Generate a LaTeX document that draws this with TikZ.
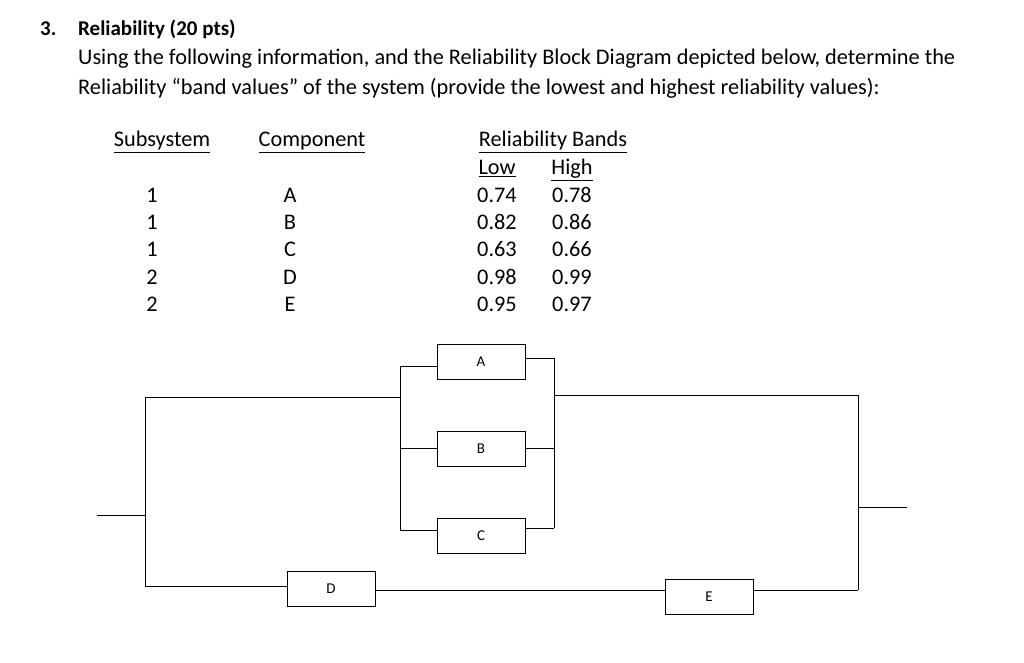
\documentclass[tikz,border=0pt]{standalone}
\usepackage{fontspec}
\setmainfont{Carlito}
\begin{document}
\begin{tikzpicture}[x=1pt,y=-1pt,
  txt/.style={anchor=base west,inner sep=0pt,font=\fontsize{22.3}{26}\selectfont},
  cell/.style={anchor=base,inner sep=0pt,font=\fontsize{22.3}{26}\selectfont},
  blk/.style={draw,line width=1pt,minimum width=88pt,minimum height=35pt,inner sep=0pt,font=\fontsize{15}{17}\selectfont},
  wire/.style={line width=1pt}]
\useasboundingbox (0,0) rectangle (1024,663);
\node[txt,font=\bfseries\fontsize{21}{24}\selectfont] (num) at (40,36) {3.};
\node[txt,font=\bfseries\fontsize{21}{24}\selectfont] (title) at (78,36) {Reliability (20 pts)};
\node[txt] (l1) at (78,65) {Using the following information, and the Reliability Block Diagram depicted below, determine the};
\node[txt] (l2) at (78,95) {Reliability “band values” of the system (provide the lowest and highest reliability values):};
\node[cell] (h1) at (162,147) {\underline{Subsystem}};
\node[cell] (h2) at (312,147) {\underline{Component}};
\node[cell] (h3) at (553,147) {\underline{Reliability Bands}};
\node[cell] (h4) at (497,175) {\underline{Low}};
\node[cell] (h5) at (572,175) {\underline{High}};
\foreach \s/\c/\lo/\hi [count=\i] in {1/A/0.74/0.78,1/B/0.82/0.86,1/C/0.63/0.66,2/D/0.98/0.99,2/E/0.95/0.97}{
  \pgfmathsetmacro\yy{175+27.3*\i}
  \node[cell] (s\i) at (152,\yy) {\s};
  \node[cell] (c\i) at (290,\yy) {\c};
  \node[cell] (lo\i) at (497,\yy) {\lo};
  \node[cell] (hi\i) at (572,\yy) {\hi};
}
\node[blk] (A) at (481,361.5) {A};
\node[blk] (B) at (481,449) {B};
\node[blk] (C) at (481,536) {C};
\node[blk] (D) at (331,588.5) {D};
\node[blk] (E) at (709,597) {E};
\coordinate (in) at (97,515);
\coordinate (out) at (907,507);
\coordinate (lt) at (145,397);
\coordinate (lb) at (145,586);
\coordinate (rt) at (858,395);
\coordinate (rb) at (858,590);
\coordinate (pl) at (400,397);
\coordinate (pr) at (554,395);
\draw[wire] (in) -- (145,515);
\draw[wire] (lt) -- (lb);
\draw[wire] (lt) -- (pl);
\draw[wire] (400,366) -- (400,530);
\draw[wire] (400,366) -- (A.west|-0,366);
\draw[wire] (400,448) -- (B.west|-0,448);
\draw[wire] (400,530) -- (C.west|-0,530);
\draw[wire] (554,358) -- (554,528);
\draw[wire] (A.east|-0,358) -- (554,358);
\draw[wire] (B.east|-0,448) -- (554,448);
\draw[wire] (C.east|-0,528) -- (554,528);
\draw[wire] (pr) -- (rt);
\draw[wire] (rt) -- (rb);
\draw[wire] (858,507) -- (out);
\draw[wire] (lb) -- (D.west|-0,586);
\draw[wire] (D.east|-0,590) -- (E.west|-0,590);
\draw[wire] (E.east|-0,590) -- (rb);
\end{tikzpicture}
\end{document}
